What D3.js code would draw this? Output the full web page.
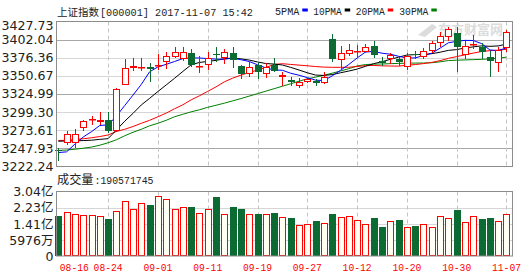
<!DOCTYPE html>
<html><head><meta charset="utf-8">
<script src="https://cdn.jsdelivr.net/npm/d3@7/dist/d3.min.js"></script>
<style>html,body{margin:0;padding:0;background:#fff;}svg{display:block;}</style>
</head><body>
<script>
const dates = ["08-16","08-17","08-18","08-21","08-22","08-23","08-24","08-25","08-28","08-29","08-30","08-31",
"09-01","09-04","09-05","09-06","09-07","09-08","09-11","09-12","09-13","09-14","09-15","09-18","09-19","09-20","09-21","09-22","09-25","09-26","09-27","09-28","09-29",
"10-09","10-10","10-11","10-12","10-13","10-16","10-17","10-18","10-19","10-20","10-23","10-24","10-25","10-26","10-27","10-30","10-31",
"11-01","11-02","11-03","11-06","11-07"];
const open = [3245,3255.5,3255.5,3277,3288.5,3285,3288,3272,3338,3362.4,3363,3363,3365,3371,3378,3375,3383,3364,3366.2,3382,3375.7,3382.7,3364.8,3353,3366.2,3353,3365.6,3348.8,3344.5,3336.5,3342.6,3344,3341.2,3403,3373.3,3381.8,3386,3385,3393,3372.3,3374.3,3374.3,3363.8,3382,3378,3386.4,3397.7,3405.4,3411.9,3380.3,3395,3392.1,3377.9,3369.5,3389.8];
const high = [3249,3272,3275.7,3288.4,3294,3299.3,3299.3,3333,3374.7,3376.5,3376.5,3368.6,3381.3,3385,3391.7,3391.7,3388.4,3379,3384.2,3391.2,3388.4,3391.2,3366.2,3370.9,3370.9,3368.6,3376.5,3356.7,3349.7,3347.4,3349.7,3346,3356.7,3410.1,3393.1,3395.5,3394.5,3395.9,3400.2,3378,3383,3378,3383,3386,3390,3400,3413,3420,3420.4,3400.6,3408.6,3397,3386,3392,3415.7];
const low = [3230,3253,3249,3272,3281.4,3281.4,3269.6,3271,3337.9,3357.7,3357.7,3341.7,3359,3360.5,3376.5,3371.9,3363.8,3355,3359.1,3370.9,3367.2,3361.5,3346,3349.7,3346.4,3347.4,3356.7,3336.9,3336.9,3333.2,3341,3336.9,3338.9,3370.9,3359.1,3379.4,3377.9,3382.7,3375.7,3365,3368,3365.2,3359,3374,3374,3383,3392,3400,3356.7,3374,3388.4,3374.3,3348.8,3356.7,3385];
const close = [3243.5,3268.2,3269,3287,3290,3288,3272,3331.5,3361.5,3364.5,3363.6,3360.8,3366,3379.5,3384.2,3384.5,3366,3365.2,3375.7,3380,3385,3373.3,3353.5,3362.9,3356.7,3362.9,3358.1,3352.1,3342,3342.6,3346,3340.3,3348.8,3374.7,3382.7,3387.4,3386.4,3391.2,3380.3,3369.5,3380.3,3370.9,3378.9,3380.5,3386.4,3396.9,3407.2,3416.7,3391.2,3393.1,3395.5,3385,3372.3,3387.4,3412.4];
const volume = [1.794,2.016,1.915,1.879,1.879,1.829,1.642,2.081,2.586,2.182,2.47,2.349,2.838,2.672,2.182,2.268,2.248,1.965,2.182,2.752,1.915,2.248,2.182,1.915,1.915,1.915,1.965,1.763,1.713,1.375,1.41,1.541,1.46,1.93,1.763,1.814,1.63,1.41,1.728,1.274,1.577,1.592,1.274,1.324,1.41,1.274,1.814,1.728,2.096,1.511,1.814,1.677,1.728,1.577,1.906];
const ma5 = [3242,3243,3254,3264,3271.6,3280.4,3281.2,3293.6,3308.6,3323.4,3338.6,3356.4,3363.4,3367,3371,3375.2,3376.2,3376,3375.2,3374.4,3374.4,3375.8,3373.6,3371,3366.4,3362,3359,3358.6,3354.4,3351.6,3348.2,3344.6,3344,3350.6,3358.6,3366.8,3376,3384.4,3385.4,3382.8,3381.4,3378.4,3376,3376.2,3379.4,3382.8,3390,3397.6,3399.6,3401,3400.8,3396.4,3387.4,3386.6,3390.4];
const ma10 = [3258,3258.5,3258.5,3259,3259.5,3260.7,3261.7,3274,3286.4,3297.5,3309.5,3318.8,3328.5,3337.8,3347.2,3356.9,3366.3,3369.7,3371.1,3372.7,3374.8,3376,3374.8,3373.1,3370.4,3368.2,3367.4,3366.1,3362.7,3359,3355.1,3351.8,3351.3,3352.5,3355.1,3357.5,3360.3,3364.2,3368,3370.7,3374.1,3377.2,3380.2,3380.8,3381.1,3382.1,3384.2,3386.8,3387.9,3390.2,3391.8,3393.2,3392.5,3393.1,3395.7];
const ma20 = [3259.1,3259.4,3260.4,3261.5,3263,3264.7,3266.9,3271.9,3275,3278.9,3283.5,3287.7,3292.7,3297.9,3304,3309.6,3316.7,3322.4,3328.7,3335.1,3342.2,3347.4,3351.7,3355.5,3358.8,3362.6,3366.9,3367.9,3366.9,3365.9,3365,3363.9,3363.1,3362.8,3362.8,3362.9,3363.9,3365.2,3365.4,3364.9,3364.6,3364.5,3365.8,3366.7,3368.1,3369.8,3372.3,3375.5,3378,3380.5,3383,3385.2,3386.4,3387,3388.4];
const ma30 = [3245,3245.6,3246.7,3248.1,3249.8,3252.4,3255.9,3260.1,3265.8,3270.7,3275,3279.9,3283.5,3287.7,3292.7,3296.2,3299.7,3302.6,3306.1,3309,3312,3315.2,3318.5,3322,3325.5,3329,3332.5,3336,3339.5,3343.1,3346.5,3348.9,3351.5,3354.5,3357.6,3360.9,3364.7,3366.7,3367.3,3367.5,3368,3368.3,3368.8,3368.8,3368.9,3369.3,3370.6,3372.4,3372.9,3373.3,3373.7,3374.1,3374.7,3375.5,3377.3];
const priceTicks = [3222.24,3247.93,3273.61,3299.30,3324.99,3350.67,3376.36,3402.04,3427.73];
const darkPriceTicks = [3247.93,3324.99,3402.04];
const volTicks = [0.5976,1.41,2.23,3.04];
const volTickLabels = ["5976万","1.41亿","2.23亿","3.04亿"];
const volZeroLabel = "0";
const gridDates = ["08-24","09-01","09-11","09-19","09-27","10-12","10-20","10-30","11-07"];
const labelDates = ["08-16","08-24","09-01","09-11","09-19","09-27","10-12","10-20","10-30","11-07"];
const maNames = ["5PMA","10PMA","20PMA","30PMA"];
const maColors = ["#0000ff","#000000","#ff0000","#008000"];
const titleCn = "上证指数";
const titleRest = "[000001] 2017-11-07 15:42";
const volTitleCn = "成交量";
const volTitleRest = ":190571745";
const watermarkCn = "东方财富网";
const watermarkEn = "eastmoney.com";

const W = 530, H = 276;
const L = 56.5, R = 512.5, T = 21.5, B = 166.5, VT = 191.5, VB = 256;
const RED = "#ff0000", GREEN = "#0b6b32";

const svg = d3.select("body").append("svg").attr("width", W).attr("height", H);

const x = d3.scalePoint().domain(dates).range([58.3, 506.5]);
const y = d3.scaleLinear().domain([3222.24, 3427.73]).range([B, T]);
const yv = d3.scaleLinear().domain([-0.19, 3.04]).range([VB, VT]);
const px = v => Math.round(v) + 0.5;

// watermark
const wm = svg.append("g").attr("fill", "#dcdcdc");
wm.append("path").attr("d", "M418,35 L432,24 L437,27 L425,37 Z");
wm.append("text").attr("x", 438).attr("y", 34).attr("font-family", "Noto Sans CJK SC").attr("font-size", 13).attr("font-weight", "bold").text(watermarkCn);
wm.append("text").attr("x", 455).attr("y", 46).attr("font-family", "DejaVu Sans").attr("font-size", 5.5).attr("fill", "#e6e6e6").text(watermarkEn);

// horizontal grids main
svg.append("g").selectAll("line").data(priceTicks.slice(1, -1)).join("line")
  .attr("x1", L).attr("x2", R)
  .attr("y1", d => px(y(d))).attr("y2", d => px(y(d)))
  .attr("stroke", d => darkPriceTicks.includes(d) ? "#a8a8a8" : "#d6d6d6");
// horizontal grids volume
svg.append("g").selectAll("line").data(volTicks.slice(0, -1)).join("line")
  .attr("x1", L).attr("x2", R)
  .attr("y1", d => px(yv(d))).attr("y2", d => px(yv(d)))
  .attr("stroke", "#d6d6d6");
// vertical dashed grids
[[T, B], [VT, VB]].forEach(([a, b]) => {
  svg.append("g").selectAll("line").data(gridDates).join("line")
    .attr("x1", d => px(x(d))).attr("x2", d => px(x(d)))
    .attr("y1", a).attr("y2", b)
    .attr("stroke", "#c4c4c4").attr("stroke-dasharray", "4,3");
});

// MA lines
const mas = [ma5, ma10, ma20, ma30];
const line = d3.line().x((d, i) => x(dates[i])).y(d => y(d));
[3, 2, 1, 0].forEach(k => {
  svg.append("path").attr("d", line(mas[k])).attr("fill", "none")
    .attr("stroke", maColors[k]).attr("stroke-width", 1);
});

// candles
const bw = 6;
const cg = svg.append("g");
dates.forEach((d, i) => {
  const up = close[i] >= open[i];
  const cx = px(x(d));
  const col = up ? RED : GREEN;
  const yTop = y(Math.max(open[i], close[i])), yBot = y(Math.min(open[i], close[i]));
  let top = Math.round(yTop), bot = Math.round(yBot);
  if (bot - top < 1) bot = top + 1;
  cg.append("line").attr("x1", cx).attr("x2", cx).attr("y1", Math.round(y(high[i]))).attr("y2", top).attr("stroke", col);
  cg.append("line").attr("x1", cx).attr("x2", cx).attr("y1", bot).attr("y2", Math.round(y(low[i]))).attr("stroke", col);
  if (up) {
    cg.append("rect").attr("x", cx - bw / 2).attr("y", top + 0.5).attr("width", bw).attr("height", Math.max(bot - top - 1, 0.5))
      .attr("fill", "#fff").attr("stroke", col);
  } else {
    cg.append("rect").attr("x", cx - bw / 2 - 0.5).attr("y", top).attr("width", bw + 1).attr("height", Math.max(bot - top, 1))
      .attr("fill", col);
  }
});

// volume bars
const vg = svg.append("g");
dates.forEach((d, i) => {
  const up = close[i] >= open[i];
  const cx = px(x(d));
  const t = Math.round(yv(volume[i]));
  if (up) {
    vg.append("rect").attr("x", cx - 3).attr("y", t + 0.5).attr("width", 6).attr("height", VB - t - 1)
      .attr("fill", "#fffff4").attr("stroke", RED);
  } else {
    vg.append("rect").attr("x", cx - 3.5).attr("y", t).attr("width", 7).attr("height", VB - t)
      .attr("fill", GREEN);
  }
});

// frames
svg.append("rect").attr("x", L).attr("y", T).attr("width", R - L).attr("height", B - T).attr("fill", "none").attr("stroke", "#8c8c8c");
svg.append("rect").attr("x", L).attr("y", VT).attr("width", R - L).attr("height", VB - VT).attr("fill", "none").attr("stroke", "#8c8c8c");

// y axis labels (price)
svg.append("g").selectAll("text").data(priceTicks).join("text")
  .attr("x", 53.5).attr("y", d => Math.max(y(d), 25.5)).attr("dy", "0.36em")
  .attr("text-anchor", "end").attr("font-family", "DejaVu Sans").attr("font-size", 12.5)
  .attr("fill", "#222").attr("textLength", 52).attr("lengthAdjust", "spacingAndGlyphs")
  .text(d => d.toFixed(2));
// volume labels
svg.append("g").selectAll("text").data(volTicks).join("text")
  .attr("x", 53.5).attr("y", d => yv(d)).attr("dy", "0.36em")
  .attr("text-anchor", "end").attr("font-family", "DejaVu Sans, Noto Sans CJK SC").attr("font-size", 12.5)
  .attr("fill", "#222").text((d, i) => volTickLabels[i]);
svg.append("text").attr("x", 53.5).attr("y", VB).attr("dy", "0.36em").attr("text-anchor", "end")
  .attr("font-family", "DejaVu Sans").attr("font-size", 12.5).attr("fill", "#222").text(volZeroLabel);

// x labels
svg.append("g").selectAll("text").data(labelDates).join("text")
  .attr("x", (d, i) => i === 0 ? x(d) + 1.5 : x(d))
  .attr("y", 271)
  .attr("text-anchor", (d, i) => i === 0 ? "start" : "middle")
  .attr("font-family", "Liberation Mono").attr("font-size", 10.5).attr("fill", RED)
  .attr("textLength", 29).attr("lengthAdjust", "spacingAndGlyphs")
  .text(d => d);

// title
svg.append("text").attr("x", 57).attr("y", 16).attr("font-family", "Noto Sans CJK SC").attr("font-size", 10.5)
  .attr("fill", "#222").attr("textLength", 42).attr("lengthAdjust", "spacingAndGlyphs").text(titleCn);
svg.append("text").attr("x", 100).attr("y", 15.5).attr("font-family", "Liberation Mono").attr("font-size", 10.5)
  .attr("fill", "#222").attr("textLength", 153).attr("lengthAdjust", "spacingAndGlyphs").text(titleRest);

// legend
const legX = [275, 313.3, 355.7, 399.3];
const legW = [24.3, 28.4, 29, 29];
maNames.forEach((n, k) => {
  svg.append("text").attr("x", legX[k]).attr("y", 14.5).attr("font-family", "Liberation Mono").attr("font-size", 10.5)
    .attr("fill", "#222").attr("textLength", legW[k]).attr("lengthAdjust", "spacingAndGlyphs").text(n);
  svg.append("rect").attr("x", legX[k] + legW[k] + 3).attr("y", 8.5).attr("width", 5.5).attr("height", 3)
    .attr("fill", maColors[k]);
});

// volume title
svg.append("text").attr("x", 57).attr("y", 183.5).attr("font-family", "Noto Sans CJK SC").attr("font-size", 12.2)
  .attr("fill", "#222").attr("textLength", 36.5).attr("lengthAdjust", "spacingAndGlyphs").text(volTitleCn);
svg.append("text").attr("x", 94.5).attr("y", 183.5).attr("font-family", "Liberation Mono").attr("font-size", 11)
  .attr("fill", "#222").attr("textLength", 59).attr("lengthAdjust", "spacingAndGlyphs").text(volTitleRest);
</script>
</body></html>
